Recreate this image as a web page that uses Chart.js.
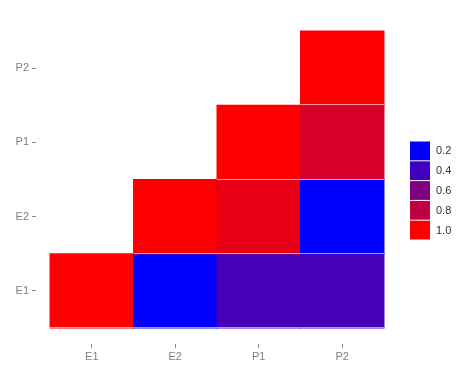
<!DOCTYPE html>
<html>
<head>
<meta charset="utf-8">
<script src="https://cdn.jsdelivr.net/npm/chart.js@4/dist/chart.umd.min.js"></script>
<style>
  html, body { margin: 0; padding: 0; background: #fff; }
  #wrap { width: 474px; height: 374px; }
</style>
</head>
<body>
<div id="wrap"><canvas id="heatChart" width="474" height="374"></canvas></div>
<script>
// variables along both axes
const categories = ["E1", "E2", "P1", "P2"];

// one row of the lower triangle per y category (null = empty cell)
const rowE1 = [1.00, 0.20, 0.42, 0.42];
const rowE2 = [null, 1.00, 0.93, 0.20];
const rowP1 = [null, null, 1.00, 0.875];
const rowP2 = [null, null, null, 1.00];

// legend break labels
const legendBreaks = [0.2, 0.4, 0.6, 0.8, 1.0];

const rows = [rowE1, rowE2, rowP1, rowP2];
const allVals = rows.flat().filter(v => v !== null);
const lo = Math.min(...allVals), hi = Math.max(...allVals);

function fillFor(v) {
    let t = (v - lo) / (hi - lo);
    t = Math.max(0, Math.min(1, t));
    return "rgb(" + Math.round(255 * t) + ",0," + Math.round(255 * (1 - t)) + ")";
}

const points = [];
const colors = [];
rows.forEach(function (row, r) {
    row.forEach(function (v, c) {
        if (v === null) return;
        points.push({ x: c, y: [r - 0.5, r + 0.5], v: v });
        colors.push(fillFor(v));
    });
});

// faint light edge along the bottom of each tile
const tileEdges = {
    id: "tileEdges",
    afterDatasetsDraw(chart) {
        const ctx = chart.ctx;
        ctx.save();
        ctx.strokeStyle = "rgba(255,255,255,0.6)";
        ctx.lineWidth = 1;
        chart.getDatasetMeta(0).data.forEach(function (el) {
            const x0 = el.x - el.width / 2, x1 = el.x + el.width / 2;
            const y = Math.round(el.base) - 0.5;
            ctx.beginPath();
            ctx.moveTo(x0, y);
            ctx.lineTo(x1, y);
            ctx.stroke();
        });
        ctx.restore();
    }
};

const legendPlugin = {
    id: "stepLegend",
    afterDraw(chart) {
        const ctx = chart.ctx;
        const step = 19.8;
        const x = chart.chartArea.right + 12;
        const top = chart.height / 2 + 4 - step * legendBreaks.length / 2;
        ctx.save();
        legendBreaks.forEach(function (b, i) {
            const y = top + i * step;
            ctx.fillStyle = fillFor(b);
            ctx.fillRect(x, y, 20, step - 1);
            ctx.fillStyle = "#333";
            ctx.font = "11px 'Liberation Sans', Arial, sans-serif";
            ctx.textBaseline = "middle";
            ctx.fillText(b.toFixed(1), x + 26, y + step / 2);
        });
        ctx.restore();
    }
};

const axisTicks = function (scale) {
    scale.ticks = categories.map((c, i) => ({ value: i }));
};

new Chart(document.getElementById("heatChart").getContext("2d"), {
    type: "bar",
    data: {
        datasets: [{
            data: points,
            backgroundColor: colors,
            borderWidth: 0,
            inflateAmount: 0.5,
            barPercentage: 1,
            categoryPercentage: 1
        }]
    },
    options: {
        responsive: false,
        animation: false,
        layout: { padding: { top: 15, right: 76, left: 0, bottom: 0 } },
        plugins: { legend: { display: false }, tooltip: { enabled: false } },
        scales: {
            x: {
                type: "linear",
                offset: false,
                min: -0.668,
                max: 3.668,
                afterBuildTicks: axisTicks,
                afterFit: function (s) { s.height = 30; },
                grid: { offset: false, drawOnChartArea: false, tickLength: 4, tickColor: "#888" },
                border: { display: false },
                ticks: {
                    padding: 2,
                    color: "#7f7f7f",
                    font: { size: 11, family: "'Liberation Sans', Arial, sans-serif" },
                    callback: v => categories[v]
                }
            },
            y: {
                type: "linear",
                min: -0.715,
                max: 3.715,
                afterBuildTicks: axisTicks,
                afterFit: function (s) { s.width = 36; },
                grid: { drawOnChartArea: false, tickLength: 4, tickColor: "#888" },
                border: { display: false },
                ticks: {
                    padding: 3,
                    color: "#7f7f7f",
                    font: { size: 11, family: "'Liberation Sans', Arial, sans-serif" },
                    callback: v => categories[v]
                }
            }
        }
    },
    plugins: [tileEdges, legendPlugin]
});
</script>
</body>
</html>
